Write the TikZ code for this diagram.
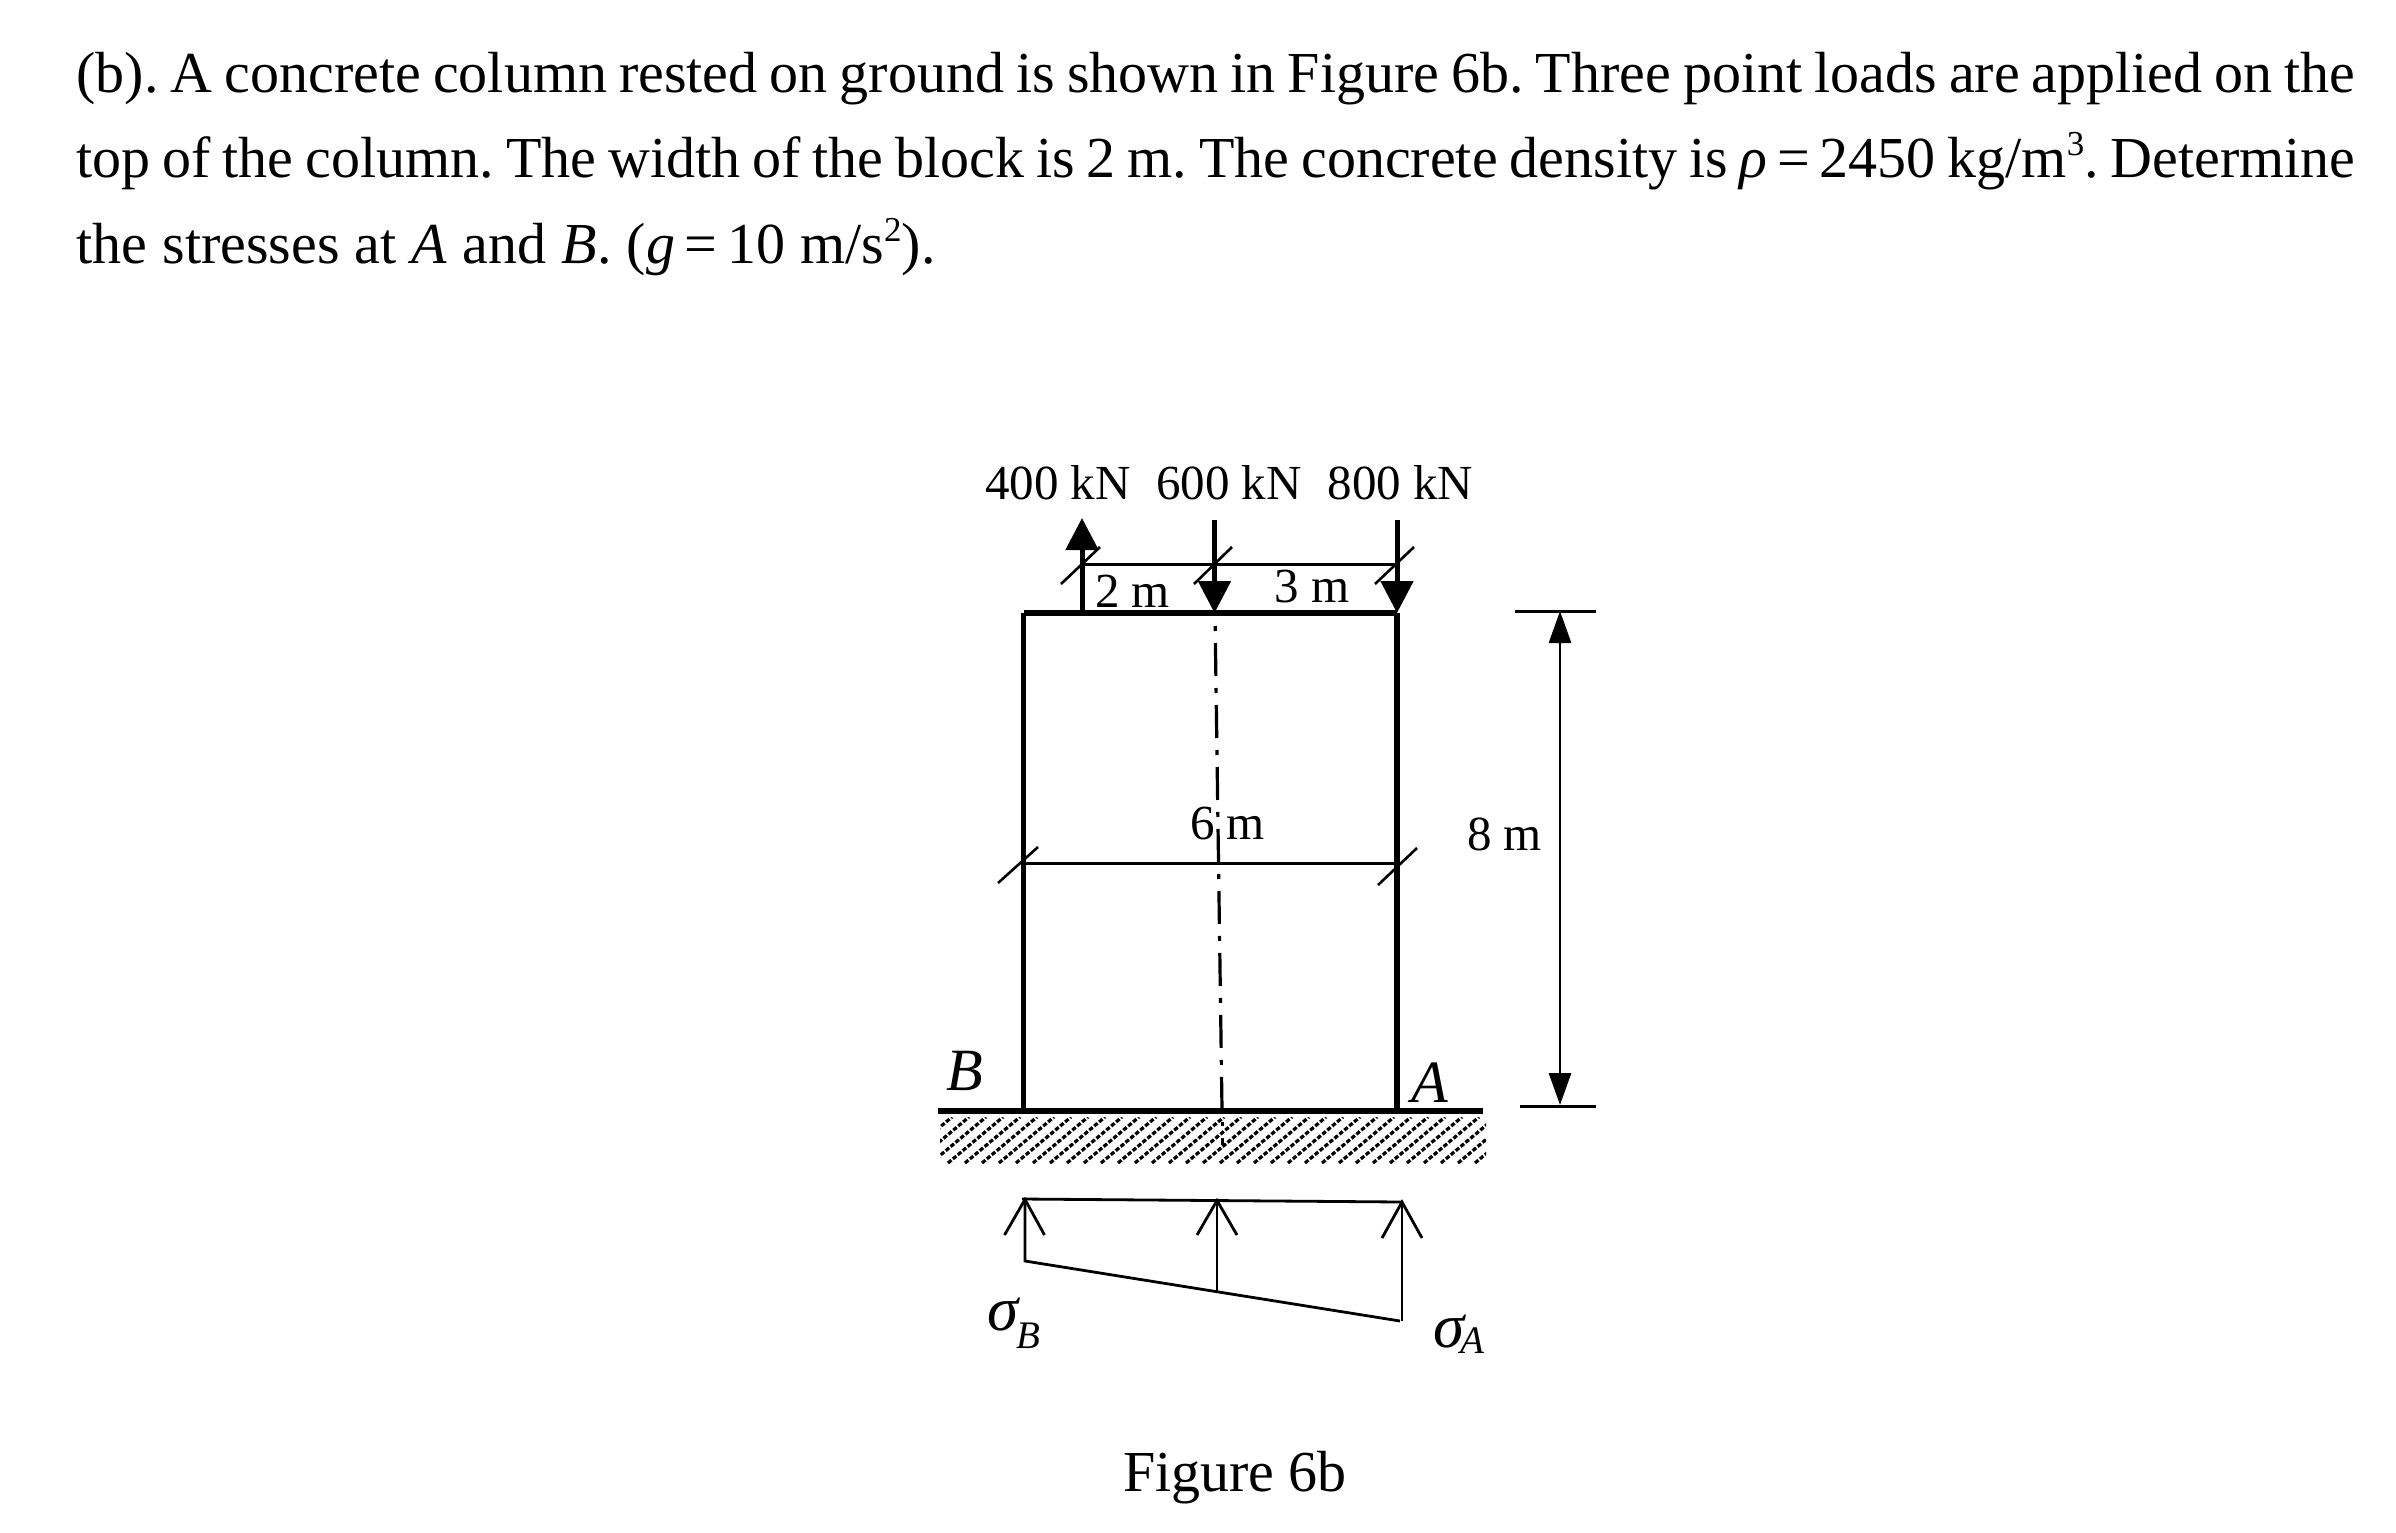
\documentclass[tikz,border=0pt]{standalone}
\usepackage{fontspec}
\setmainfont{Liberation Serif}
\usetikzlibrary{arrows.meta}
\newcommand{\fs}[1]{\fontsize{#1pt}{#1pt}\selectfont}
\newcommand{\supr}[1]{\raisebox{22pt}{\fs{35}#1}}
\tikzset{
  lbl/.style={anchor=base west,inner sep=0pt,outer sep=0pt},
  body/.style={lbl,font=\fs{58}\frenchspacing},
  dimtext/.style={lbl,font=\fs{49}},
  thick line/.style={line width=5.5pt,line cap=butt},
  thin line/.style={line width=3pt,line cap=butt},
  tick line/.style={line width=2.6pt},
  loadtip/.style={-{Triangle[length=32pt,width=32pt]}},
  dimtip/.style={{Triangle[length=32pt,width=22pt]}-{Triangle[length=32pt,width=22pt]}},
  centre line/.style={line width=3.2pt,dash pattern=on 33pt off 12pt on 5pt off 12pt,dash phase=33pt},
  hatch line/.style={line width=3.2pt,dash pattern=on 4.4pt off 2pt},
  stress/.style={line width=2.8pt}
}
\begin{document}
\begin{tikzpicture}[x=1pt,y=-1pt]
\useasboundingbox (0,0) rectangle (2396,1532);
\fill[white] (0,0) rectangle (2396,1532);
% statement
\node[body] (l1) at (76.5,92) {\makebox[2279pt][s]{(b). A concrete column rested on ground is shown in Figure 6b. Three point loads are applied on the}};
\node[body] (l2) at (76.5,177) {\makebox[2279pt][s]{top of the column. The width of the block is 2 m. The concrete density is \textit{ρ}\,=\,2450 kg/m\supr{3}. Determine}};
\node[body] (l3) at (76.5,263) {\makebox[859pt][s]{the stresses at \textit{A} and \textit{B}. (\textit{g}\,=\,10 m/s\supr{2}).}};
% key points
\coordinate (TL) at (1023.5,613);
\coordinate (TR) at (1397,613);
\coordinate (BL) at (1023.5,1111);
\coordinate (BR) at (1397,1111);
\coordinate (GL) at (938,1111);
\coordinate (GR) at (1483,1111);
\coordinate (PA) at (1082,613);
\coordinate (PAt) at (1082,518);
\coordinate (PB) at (1214.5,613);
\coordinate (PBt) at (1214.5,520);
\coordinate (PC) at (1397,613);
\coordinate (PCt) at (1397,520);
\coordinate (DA) at (1082,564);
\coordinate (DC) at (1397,564);
\coordinate (ML) at (1023.5,863);
\coordinate (MR) at (1397,863);
\coordinate (CT) at (1215,614);
\coordinate (CB) at (1222,1109);
\coordinate (HT) at (1560,611);
\coordinate (HB) at (1560,1105);
% hatching
\begin{scope}
\clip (940,1117) rectangle (1486,1163);
\foreach \k in {0,...,37}{
  \draw[hatch line] ({880+17*\k},1163) -- ({935+17*\k},1117);
}
\draw[line width=3pt] (1222,1122) -- (1222,1126) (1222,1138) -- (1222,1145);
\end{scope}
% column
\draw[thick line] (TL) -- (BL);
\draw[thick line] (TR) -- (BR);
\draw[line width=5.5pt,line cap=square] (TL) -- (TR);
\draw[line width=6pt] (GL) -- (GR);
\draw[centre line] (CT) -- (CB);
% point loads
\draw[line width=5pt,loadtip] (PA) -- (PAt);
\draw[line width=5pt,loadtip] (PBt) -- (PB);
\draw[line width=5pt,loadtip] (PCt) -- (PC);
\draw[thin line] (DA) -- (DC);
\draw[tick line] (1061,584) -- (1100,547);
\draw[tick line] (1194,584) -- (1232,547);
\draw[tick line] (1375,584) -- (1414,547);
% 6 m
\draw[thin line] (ML) -- (MR);
\draw[tick line] (998,883) -- (1038,847);
\draw[tick line] (1378,885) -- (1417,848);
% 8 m
\draw[line width=3pt] (1515,611) -- (1596,611);
\draw[line width=3pt] (1520,1106) -- (1596,1106);
\draw[line width=2.8pt,dimtip] (HT) -- (HB);
% stress diagram
\coordinate (S1) at (1025,1199.5);
\coordinate (S2) at (1217,1200.5);
\coordinate (S3) at (1402,1202);
\coordinate (B1) at (1025,1261);
\coordinate (B2) at (1217,1291);
\coordinate (B3) at (1402,1321);
\draw[stress] (1022,1199) -- (S3);
\draw[stress] (S1) -- (B1) -- (1400,1321);
\draw[stress] (S2) -- (B2);
\draw[stress] (S3) -- (B3);
\draw[stress] (1004.5,1235) -- (S1) -- (1044.5,1235);
\draw[stress] (1197,1235) -- (S2) -- (1237,1235);
\draw[stress] (1382,1238) -- (S3) -- (1422,1238);
% labels
\node[dimtext] (n400) at (985,499) {400 kN};
\node[dimtext] (n600) at (1156,499) {600 kN};
\node[dimtext] (n800) at (1327.5,499) {800 kN};
\node[dimtext] (d2) at (1095,607) {2 m};
\node[dimtext] (d3) at (1274.5,602) {3 m};
\node[dimtext] (d6) at (1190,839) {6 m};
\node[dimtext] (d8) at (1467,850) {8 m};
\node[lbl,font=\fs{60}\itshape] (lA) at (1411,1102) {A};
\node[lbl,font=\fs{60}\itshape] (lB) at (946.5,1090) {B};
\node[lbl,font=\fs{63}\itshape] (sB) at (987,1330) {σ};
\node[lbl,font=\fs{39}\itshape] (sBi) at (1016,1348) {B};
\node[lbl,font=\fs{63}\itshape] (sA) at (1433,1347) {σ};
\node[lbl,font=\fs{39}\itshape] (sAi) at (1460,1353) {A};
\node[body] (cap) at (1123,1491) {Figure 6b};
\end{tikzpicture}
\end{document}
